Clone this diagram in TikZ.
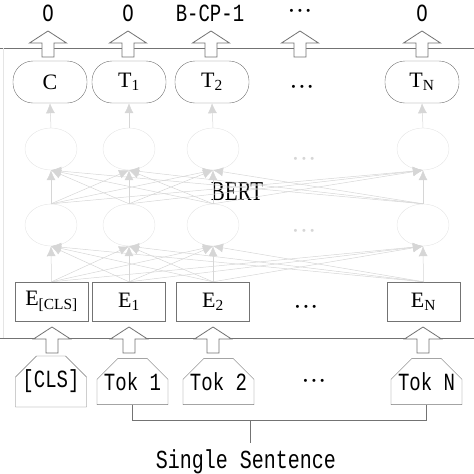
\documentclass[tikz,border=0pt]{standalone}
\usepackage{fontspec}
\setmainfont{Liberation Serif}
\setmonofont{Liberation Mono}
\usetikzlibrary{arrows.meta,shapes.geometric,shapes.misc}
\definecolor{boxgray}{gray}{0.45}
\definecolor{netgray}{gray}{0.84}
\definecolor{cellgray}{gray}{0.9}
\newcommand{\tallfont}[1]{\scalebox{1}[1.3]{#1}}
\newcommand{\bigdots}{{\bfseries\fontsize{11}{11}\selectfont\textbullet\kern4.5pt\textbullet\kern4.5pt\textbullet}}

\begin{document}
\begin{tikzpicture}[x=1pt, y=-1pt,
	outbox/.style={draw=boxgray, rounded corners=20pt, minimum width=74pt, minimum height=42pt, inner sep=0pt, font=\fontsize{22}{22}\selectfont},
	embbox/.style={draw=boxgray, minimum width=73pt, minimum height=39pt, inner sep=0pt, font=\fontsize{22}{22}\selectfont},
	tokbox/.style={draw=boxgray, chamfered rectangle, chamfered rectangle corners={north west,north east}, chamfered rectangle xsep=7pt, chamfered rectangle ysep=14pt, minimum width=70pt, minimum height=45pt, inner sep=0pt, font=\ttfamily\fontsize{19}{19}\selectfont},
	cell/.style={draw=cellgray, ellipse, minimum width=52pt, minimum height=42pt, inner sep=0pt},
	net/.style={netgray, line width=0.5pt, -{Latex[length=10pt,width=9pt]}},
	label/.style={font=\ttfamily\fontsize{19}{19}\selectfont},
	dots/.style={inner sep=0pt},
	blockarrow/.pic={\draw[boxgray, fill=white, line width=0.8pt] (-6,0) -- (-6,-14) -- (-18.5,-14) -- (0,-26) -- (18.5,-14) -- (6,-14) -- (6,0) -- cycle;}
]
\useasboundingbox (0,0) rectangle (474,474);

% frame of the encoder
\draw[boxgray, line width=0.8pt] (0,48) -- (474,48);
\draw[boxgray, line width=0.8pt] (0,338) -- (474,338);
\draw[cellgray, line width=0.8pt] (3,48) -- (3,338);

% hidden layers
\foreach \n/\x in {1/51,2/129,3/213,4/423} {
	\node[cell] (hb\n) at (\x,225) {};
	\node[cell] (ht\n) at (\x,149) {};
}
\node[dots, netgray] (hdotb) at (304,232) {\bigdots};
\node[dots, netgray] (hdott) at (304,160) {\bigdots};
\node[font=\fontsize{21}{21}\selectfont] (bert) at (237,192) {\tallfont{BERT}};

% output boxes
\node[outbox] (c) at (50,82) {C};
\node[outbox] (t1) at (129,82) {T\textsubscript{1}};
\node[outbox] (t2) at (212,82) {T\textsubscript{2}};
\node[dots] (tdots) at (302,88) {\bigdots};
\node[outbox] (tn) at (422,82) {T\textsubscript{N}};

% embeddings
\node[embbox] (e1) at (51.5,301.5) {E\textsubscript{[CLS]}};
\node[embbox] (e2) at (129,301.5) {E\textsubscript{1}};
\node[embbox] (e3) at (213,301.5) {E\textsubscript{2}};
\node[dots] (edots) at (306,308) {\bigdots};
\node[embbox] (e4) at (423.5,301.5) {E\textsubscript{N}};

% tokens
\node[tokbox] (tok1) at (51,381.5) {\tallfont{[CLS]}};
\node[tokbox] (tok2) at (132.5,381.5) {\tallfont{Tok 1}};
\node[tokbox, minimum width=67pt] (tok3) at (218.5,381.5) {\tallfont{Tok 2}};
\node[dots] (tokdots) at (314,382) {\bigdots};
\node[tokbox, minimum width=69pt] (tok4) at (426.5,381.5) {\tallfont{Tok N}};

% connections of the network
\foreach \i in {1,...,4}
	\foreach \j in {1,...,4} {
		\draw[net] (e\i.north) -- (hb\j.south);
		\draw[net] (hb\i.north) -- (ht\j.south);
	}
\draw[net] (ht1.north) -- (c.south);
\draw[net] (ht2.north) -- (t1.south);
\draw[net] (ht3.north) -- (t2.south);
\draw[net] (ht4.north) -- (tn.south);

% block arrows
\foreach \x in {48,128,211,300,422}
	\pic at (\x,57) {blockarrow};
\foreach \x in {52,129,213,423}
	\pic at (\x,353) {blockarrow};

% output labels
\node[label] (o1) at (48,13) {\tallfont{O}};
\node[label] (o2) at (128,13) {\tallfont{O}};
\node[label] (o3) at (210,13) {\tallfont{B-CP-1}};
\node[dots] (odots) at (300,12) {\bigdots};
\node[label] (o4) at (422,13) {\tallfont{O}};

% sentence bracket
\coordinate (brace) at (250,420);
\node[font=\ttfamily\fontsize{20}{20}\selectfont] (sent) at (246,462) {\tallfont{Single Sentence}};
\draw[boxgray, line width=0.8pt] (tok2.south) -- (tok2.south |- brace) -- (tok4.south |- brace) -- (tok4.south);
\draw[boxgray, line width=0.8pt] (brace) -- (250,443);
\end{tikzpicture}
\end{document}
